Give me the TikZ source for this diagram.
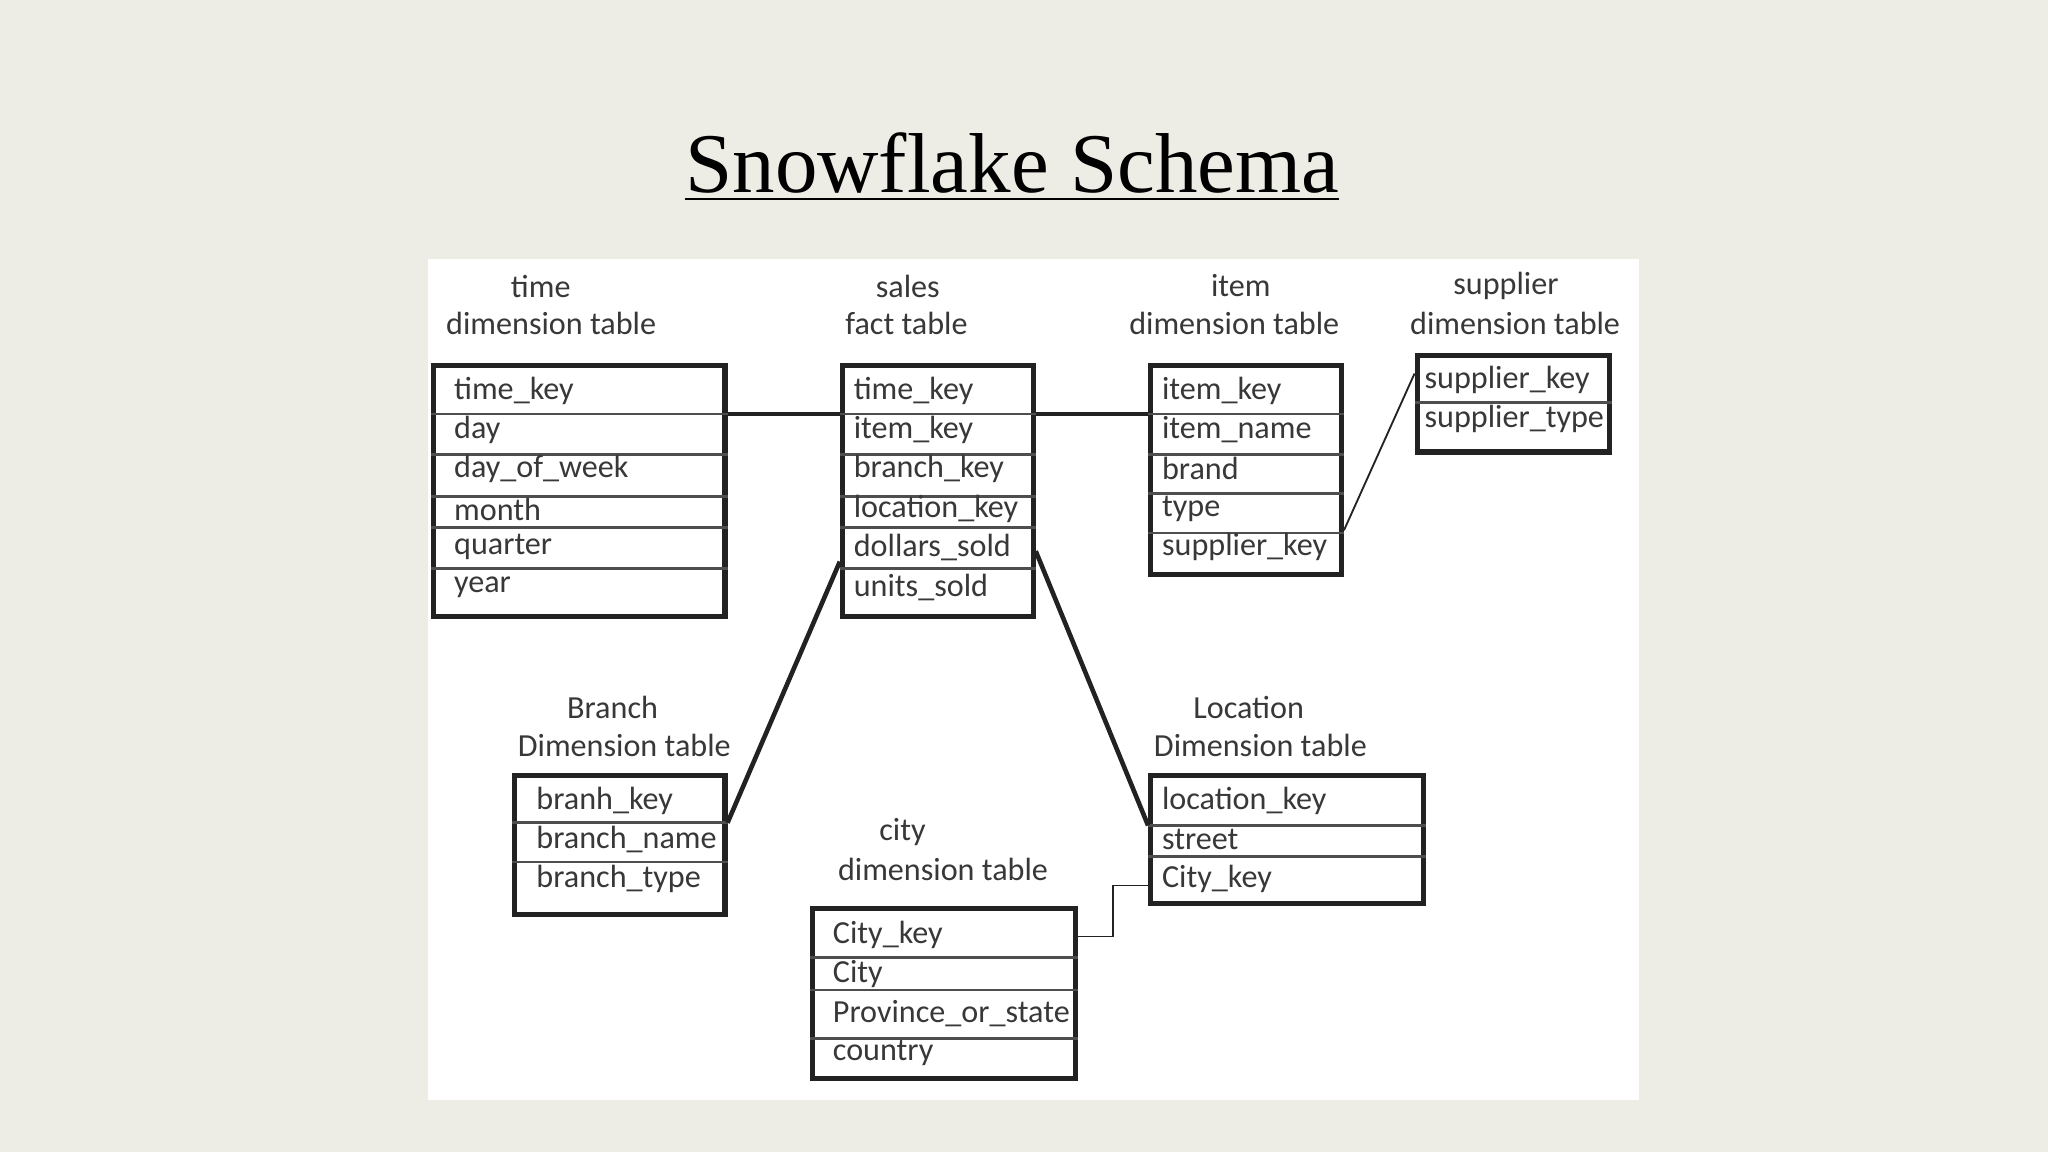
\documentclass[tikz,border=0pt]{standalone}
\usepackage{fontspec}
\setmainfont{Carlito}
\newfontfamily\titlefont{Liberation Serif}
\definecolor{bg}{HTML}{EEEDE5}
\definecolor{ink}{HTML}{222222}
\begin{document}
\begin{tikzpicture}[x=0.01cm,y=-0.01cm,
  tbl/.style={draw=ink,line width=1.1pt,anchor=north west,inner sep=0pt,outer sep=0pt},
  rowline/.style={draw=ink!80,line width=0.6pt},
  fld/.style={anchor=west,inner sep=0pt,font=\fontsize{7}{8}\selectfont,text=ink!90},
  captxt/.style={inner sep=0pt,font=\fontsize{7}{8}\selectfont,text=ink!90},
  link/.style={draw=ink,line width=1pt},
  thinlink/.style={draw=ink,line width=0.4pt}]
\fill[bg] (0,0) rectangle (1568,882);
\useasboundingbox (0,0) rectangle (1568,882);
\fill[white] (328,198) rectangle (1255,842);
\node[font=\titlefont\fontsize{18.5}{22}\selectfont] (title) at (775,128) {\underline{Snowflake Schema}};
% tables
\newcommand{\mktable}[5]{% name, x1,y1,x2,y2
  \node[tbl,minimum width={(#4-#2)*0.01cm-1.1pt},minimum height={(#5-#3)*0.01cm-1.1pt}] (#1) at ([xshift=0.55pt,yshift=-0.55pt]#2,#3) {};}
\mktable{time}{330}{278}{557}{474}
\mktable{sales}{643}{278}{793}{474}
\mktable{item}{879}{278}{1029}{442}
\mktable{supp}{1083}{270}{1234}{348}
\mktable{branch}{392}{592}{557}{702}
\mktable{loc}{879}{592}{1092}{694}
\mktable{city}{620}{694}{825}{828}
\foreach \y in {317,348,380,404,435}{\draw[rowline] (330,\y) -- (557,\y); \draw[rowline] (643,\y) -- (793,\y);}
\foreach \y in {317,348,378,408}{\draw[rowline] (879,\y) -- (1029,\y);}
\draw[rowline] (1083,308) -- (1234,308);
\foreach \y in {630,660}{\draw[rowline] (392,\y) -- (557,\y);}
\foreach \y in {632,656}{\draw[rowline] (879,\y) -- (1092,\y);}
\foreach \y in {733,758,795}{\draw[rowline] (620,\y) -- (825,\y);}
% fields
\foreach \t [count=\i] in {time\_key,day,day\_of\_week,month,quarter,year}{
  \pgfmathsetmacro\yy{{299,329,359,390,419,450}[\i-1]}
  \node[fld] (tf\i) at (347,\yy) {\t};}
\foreach \t [count=\i] in {time\_key,item\_key,branch\_key,location\_key,dollars\_sold,units\_sold}{
  \pgfmathsetmacro\yy{{299,329,359,390,419,450}[\i-1]}
  \node[fld] (sf\i) at (653,\yy) {\t};}
\foreach \t [count=\i] in {item\_key,item\_name,brand,type,supplier\_key}{
  \pgfmathsetmacro\yy{{299,329,359,390,419}[\i-1]}
  \node[fld] (if\i) at (889,\yy) {\t};}
\node[fld] (pf1) at (1090,291) {supplier\_key};
\node[fld] (pf2) at (1090,321) {supplier\_type};
\foreach \t [count=\i] in {branh\_key,branch\_name,branch\_type}{
  \pgfmathsetmacro\yy{{613,643,673}[\i-1]}
  \node[fld] (bf\i) at (410,\yy) {\t};}
\foreach \t [count=\i] in {location\_key,street,City\_key}{
  \pgfmathsetmacro\yy{{613,643,673}[\i-1]}
  \node[fld] (lf\i) at (889,\yy) {\t};}
\foreach \t [count=\i] in {City\_key,City,Province\_or\_state,country}{
  \pgfmathsetmacro\yy{{716,746,776,806}[\i-1]}
  \node[fld] (cf\i) at (637,\yy) {\t};}
% captions
\node[captxt] (c1a) at (414,219) {time}; \node[captxt] (c1b) at (422,248) {dimension table};
\node[captxt] (c2a) at (695,219) {sales}; \node[captxt] (c2b) at (694,248) {fact table};
\node[captxt] (c3a) at (950,219) {item}; \node[captxt] (c3b) at (945,248) {dimension table};
\node[captxt] (c4a) at (1153,219) {supplier}; \node[captxt] (c4b) at (1160,248) {dimension table};
\node[captxt] (c5a) at (469,542) {Branch}; \node[captxt] (c5b) at (478,571) {Dimension table};
\node[captxt] (c6a) at (956,542) {Location}; \node[captxt] (c6b) at (965,571) {Dimension table};
\node[captxt] (c7a) at (691,637) {city}; \node[captxt] (c7b) at (722,666) {dimension table};
% connectors
\coordinate (a1) at (557,317); \coordinate (a2) at (643,317);
\coordinate (b1) at (793,317); \coordinate (b2) at (879,317);
\coordinate (s1) at (1029,406); \coordinate (s2) at (1083,286);
\coordinate (r1) at (643,430); \coordinate (r2) at (557,630);
\coordinate (l1) at (793,422); \coordinate (l2) at (879,632);
\coordinate (k1) at (825,717); \coordinate (k2) at (879,678);
\draw[link] (a1) -- (a2);
\draw[link] (b1) -- (b2);
\draw[thinlink] (s1) -- (s2);
\draw[link] (r1) -- (r2);
\draw[link] (l1) -- (l2);
\draw[thinlink] (k1) -- (852,717) -- (852,678) -- (k2);
\end{tikzpicture}
\end{document}
